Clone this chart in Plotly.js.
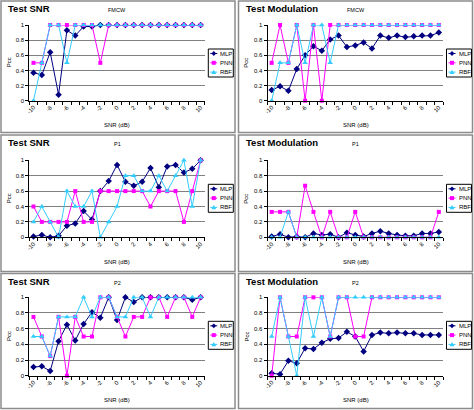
<!DOCTYPE html>
<html>
<head>
<meta charset="utf-8">
<script src="https://cdn.plot.ly/plotly-3.0.1.min.js"></script>
<style>html,body{margin:0;padding:0;background:#fff;}#chart{width:474px;height:410px;}</style>
</head>
<body>
<div id="chart"></div>
<script>
// ---------- data ----------
const snr = [-10,-9,-8,-7,-6,-5,-4,-3,-2,-1,0,1,2,3,4,5,6,7,8,9,10];
const xTickVals = [-10,-8,-6,-4,-2,0,2,4,6,8,10];
const xTickText = ['-10','-8','-6','-4','-2','0','2','4','6','8','10'];
const yTickVals = [0,0.2,0.4,0.6,0.8,1];
const yTickText = ['0','0.2','0.4','0.6','0.8','1'];
const seriesNames = ['MLP','PNN','RBF'];
const panelTitles = ['Test SNR','Test Modulation','Test SNR','Test Modulation','Test SNR','Test Modulation'];
const panelSubtitles = ['FMCW','FMCW','P1','P1','P2','P2'];
const xTitle = 'SNR (dB)';
const yTitle = 'Pcc';

const fmcwSnrMLP = [0.37,0.34,0.64,0.08,0.93,0.86,0.98,0.98,1,1,1,1,1,1,1,1,1,1,1,1,1];
const fmcwSnrPNN = [0.5,0.5,1,1,1,1,1,1,0.5,1,1,1,1,1,1,1,1,1,1,1,1];
const fmcwSnrRBF = [0,0.5,1,1,0.5,1,1,1,1,1,1,1,1,1,1,1,1,1,1,1,1];

const fmcwModMLP = [0.14,0.19,0.13,0.42,0.60,0.72,0.66,0.81,0.86,0.71,0.73,0.77,0.69,0.86,0.83,0.86,0.84,0.85,0.86,0.86,0.90];
const fmcwModPNN = [0.5,1,0.5,1,0,1,0,1,1,1,1,1,1,1,1,1,1,1,1,1,1];
const fmcwModRBF = [0,0.5,0.5,1,0.5,1,1,0.5,1,1,1,1,1,1,1,1,1,1,1,1,1];

const p1SnrMLP = [0.01,0.03,0.0,0.02,0.15,0.18,0.34,0.23,0.6,0.73,0.94,0.72,0.67,0.72,0.9,0.65,0.92,0.94,0.84,0.89,1];
const p1SnrPNN = [0.4,0.2,0.2,0.2,0.2,0.6,0.2,0.2,0.6,0.6,0.6,0.6,0.6,0.6,0.4,0.6,0.6,0.6,0.2,0.6,1];
const p1SnrRBF = [0.2,0.4,0.2,0,0.6,0.4,0.4,0.6,0,0.2,0.4,0.8,0.8,0.6,0.6,0.8,0.6,0.8,1,0.4,1];

const p1ModMLP = [0.01,0.04,0.0,0.01,0.0,0.05,0.03,0.04,0.0,0.06,0.03,0.01,0.05,0.08,0.05,0.03,0.02,0.02,0.05,0.05,0.07];
const p1ModPNN = [0.33,0.33,0.33,0,0.67,0.33,0,0.33,0,0,0.33,0,0,0,0,0,0,0,0,0,0.33];
const p1ModRBF = [0,0,0.33,0,0,0,0,0,0,0,0,0,0,0,0,0,0,0,0,0,0];

const p2SnrMLP = [0.11,0.12,0.06,0.44,0.65,0.45,0.66,0.81,0.74,1,0.71,1,0.94,1,1,1,1,1,1,0.97,1];
const p2SnrPNN = [0.75,0.5,0.25,0.75,0,0.75,0.5,0.5,1,1,0.75,0.5,0.75,0.75,1,1,0.75,1,1,0.75,1];
const p2SnrRBF = [0.5,0.5,0.25,0.75,0.75,0.75,1,0.75,1,1,0.75,0.75,1,1,0.75,1,1,1,1,1,1];

const p2ModMLP = [0.03,0.02,0.19,0.16,0.35,0.34,0.42,0.47,0.48,0.56,0.50,0.31,0.52,0.55,0.54,0.55,0.54,0.54,0.52,0.52,0.52];
const p2ModPNN = [0,1,0.5,0.5,1,1,1,0.5,1,1,0.5,0.5,1,1,1,1,1,1,1,1,1];
const p2ModRBF = [0.5,1,0.5,0,1,0.5,1,0.5,1,1,1,1,1,1,1,1,1,1,1,1,1];

// ---------- layout helpers ----------
const W = 474, H = 410;
const px = x => x / W;
const py = y => 1 - y / H;
const FONT = 'Liberation Sans, Arial, sans-serif';

const cols = [
  {L: 29.3, R: 204.8, bl: 1, br: 235},
  {L: 267.5, R: 443, bl: 238.5, br: 472.5}
];
const rows = [
  {T: 25, B: 100.7, bt: 1, bb: 132.5},
  {T: 160.3, B: 237.3, bt: 135, bb: 271.5},
  {T: 297.3, B: 375.7, bt: 273.5, bb: 408.5}
];
const panelData = [
  [fmcwSnrMLP, fmcwSnrPNN, fmcwSnrRBF],
  [fmcwModMLP, fmcwModPNN, fmcwModRBF],
  [p1SnrMLP, p1SnrPNN, p1SnrRBF],
  [p1ModMLP, p1ModPNN, p1ModRBF],
  [p2SnrMLP, p2SnrPNN, p2SnrRBF],
  [p2ModMLP, p2ModPNN, p2ModRBF]
];
const styles = [
  {color: '#000080', symbol: 'diamond', size: 5},
  {color: '#FF00FF', symbol: 'square', size: 4},
  {color: '#33CCFF', symbol: 'triangle-up', size: 5}
];

const boundaries = snr.map(v => v - 0.5).concat([snr[snr.length - 1] + 0.5]);

const traces = [];
const layout = {
  width: W, height: H,
  margin: {l: 0, r: 0, t: 0, b: 0},
  paper_bgcolor: '#ffffff',
  plot_bgcolor: '#ffffff',
  showlegend: false,
  font: {family: FONT, size: 6, color: '#000'},
  shapes: [],
  annotations: []
};

function markerPath(sym, cx, cy) {
  let pts;
  if (sym === 'diamond') pts = [[cx-2.4,cy],[cx,cy-2.4],[cx+2.4,cy],[cx,cy+2.4]];
  else if (sym === 'square') pts = [[cx-2,cy-2],[cx+2,cy-2],[cx+2,cy+2],[cx-2,cy+2]];
  else pts = [[cx,cy-2.4],[cx+2.4,cy+1.8],[cx-2.4,cy+1.8]];
  return 'M ' + pts.map(p => px(p[0]) + ',' + py(p[1])).join(' L ') + ' Z';
}

for (let i = 0; i < 6; i++) {
  const c = cols[i % 2], r = rows[Math.floor(i / 2)];
  const n = i === 0 ? '' : String(i + 1);
  const xa = 'xaxis' + n, ya = 'yaxis' + n;

  layout[xa] = {
    domain: [px(c.L), px(c.R)],
    anchor: 'y' + n,
    range: [boundaries[0], boundaries[boundaries.length - 1]],
    tickmode: 'array', tickvals: xTickVals, ticktext: xTickText,
    tickangle: -45, ticks: '', showgrid: false, zeroline: false,
    showline: true, linecolor: '#000', linewidth: 1,
    tickfont: {family: FONT, size: 6, color: '#000'},
    minor: {tickmode: 'array', tickvals: boundaries, ticks: 'outside', ticklen: 3, tickcolor: '#000', tickwidth: 1, showgrid: false},
    fixedrange: true
  };
  layout[ya] = {
    domain: [py(r.B), py(r.T)],
    anchor: 'x' + n,
    range: [0, 1],
    tickmode: 'array', tickvals: yTickVals, ticktext: yTickText,
    ticks: 'outside', ticklen: 3, tickcolor: '#000',
    showgrid: true, gridcolor: '#808080', gridwidth: 1, zeroline: false,
    showline: true, linecolor: '#000', linewidth: 1,
    tickfont: {family: FONT, size: 6, color: '#000'},
    fixedrange: true
  };

  for (let s = 0; s < 3; s++) {
    traces.push({
      x: snr, y: panelData[i][s], name: seriesNames[s],
      xaxis: 'x' + n, yaxis: 'y' + n,
      type: 'scatter', mode: 'lines+markers',
      line: {color: styles[s].color, width: 1},
      marker: {symbol: styles[s].symbol, size: styles[s].size, color: styles[s].color, line: {width: 0}},
      cliponaxis: false, showlegend: false, hoverinfo: 'skip'
    });
  }

  // panel border
  layout.shapes.push({type: 'rect', xref: 'paper', yref: 'paper',
    x0: px(c.bl), x1: px(c.br), y0: py(r.bb), y1: py(r.bt),
    line: {color: '#8c8c8c', width: 1.5}, fillcolor: 'rgba(0,0,0,0)'});

  // titles
  layout.annotations.push({xref: 'paper', yref: 'paper', x: px(c.bl + 5), y: py(r.bt + 7.5),
    xanchor: 'left', yanchor: 'middle', showarrow: false, text: '<b>' + panelTitles[i] + '</b>',
    font: {family: FONT, size: 9.5, color: '#000'}});
  layout.annotations.push({xref: 'paper', yref: 'paper', x: px(c.L + 88), y: py(r.bt + 9),
    xanchor: 'center', yanchor: 'middle', showarrow: false, text: panelSubtitles[i],
    font: {family: FONT, size: 5.5, color: '#000'}});
  layout.annotations.push({xref: 'paper', yref: 'paper', x: px(c.L + 88), y: py(r.B + 24.5),
    xanchor: 'center', yanchor: 'middle', showarrow: false, text: xTitle,
    font: {family: FONT, size: 6, color: '#000'}});
  layout.annotations.push({xref: 'paper', yref: 'paper', x: px(c.bl + 7.5), y: py((r.T + r.B) / 2),
    xanchor: 'center', yanchor: 'middle', showarrow: false, text: yTitle, textangle: -90,
    font: {family: FONT, size: 6, color: '#000'}});

  // legend
  const R = c.R, T = r.T;
  layout.shapes.push({type: 'rect', xref: 'paper', yref: 'paper',
    x0: px(R + 3.5), x1: px(R + 28.5), y0: py(T + 52), y1: py(T + 24),
    line: {color: '#000', width: 1}, fillcolor: '#fff'});
  for (let s = 0; s < 3; s++) {
    const yy = T + 28.5 + s * 9.3;
    layout.shapes.push({type: 'line', xref: 'paper', yref: 'paper',
      x0: px(R + 5.5), x1: px(R + 12.5), y0: py(yy), y1: py(yy),
      line: {color: styles[s].color, width: 1}});
    layout.shapes.push({type: 'path', xref: 'paper', yref: 'paper',
      path: markerPath(styles[s].symbol, R + 9, yy),
      line: {width: 0}, fillcolor: styles[s].color});
    layout.annotations.push({xref: 'paper', yref: 'paper', x: px(R + 13.5), y: py(yy),
      xanchor: 'left', yanchor: 'middle', showarrow: false, text: seriesNames[s],
      font: {family: FONT, size: 6, color: '#000'}});
  }
}

Plotly.newPlot('chart', traces, layout, {staticPlot: true, displayModeBar: false});
</script>
</body>
</html>
